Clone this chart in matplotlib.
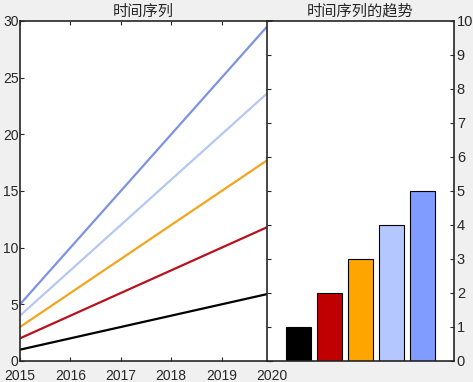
import numpy as np
import matplotlib.pyplot as plt

plt.rcParams['font.family'] = ['Noto Sans CJK SC', 'DejaVu Sans']

# 数据
years = [2015, 2016, 2017, 2018, 2019, 2020]
series = [
    [1, 2, 3, 4, 5, 6],
    [2, 4, 6, 8, 10, 12],
    [3, 6, 9, 12, 15, 18],
    [4, 8, 12, 16, 20, 24],
    [5, 10, 15, 20, 25, 30],
]
bar_x = [1, 2, 3, 4, 5]
bar_vals = [1, 2, 3, 4, 5]
line_colors = ['#000000', '#B8121C', '#F2A520', '#B4C8F2', '#7D93E2']
bar_colors = ['#000000', '#C00000', '#FFA500', '#B4C8FF', '#809CFF']

dark = '#262626'
tick_font = 'Liberation Sans'
fig = plt.figure(figsize=(4.73, 3.82), dpi=100, facecolor='#F0F0F0')

# 左图比右图起点更宽, 右图盖住它的最右端
ax1 = fig.add_axes([20/473, 1 - 361/382, 252/473, 340/382])
for y, c in zip(series, line_colors):
    ax1.plot(years, y, color=c, linewidth=1.6)
ax1.set_xlim(2015, 2020)
ax1.set_ylim(0, 30)
ax1.set_xticks(years)
ax1.set_yticks([0, 5, 10, 15, 20, 25, 30])
ax1.tick_params(direction='in', top=True, right=True, labelsize=10,
                colors=dark, length=3, width=0.8, pad=1)
ax1.tick_params(axis='x', pad=6)
ax1.set_title('时间序列', fontsize=11, color=dark, pad=4, x=247/252/2)

ax2 = fig.add_axes([267/473, 1 - 361/382, 187/473, 340/382], zorder=2)
ax2.bar(bar_x, bar_vals, width=0.8, color=bar_colors, edgecolor='black', linewidth=0.8)
ax2.set_xlim(0, 6)
ax2.set_ylim(0, 10)
ax2.set_xticks([])
ax2.set_yticks(range(0, 11))
ax2.yaxis.tick_right()
ax2.tick_params(axis='y', direction='in', left=True, right=True, labelsize=10.5,
                colors=dark, length=3, width=0.8, pad=2)
ax2.set_title('时间序列的趋势', fontsize=11, color=dark, pad=4)

for ax in (ax1, ax2):
    for lab in ax.get_xticklabels() + ax.get_yticklabels():
        lab.set_fontfamily(tick_font)
    for s in ax.spines.values():
        s.set_color(dark)
        s.set_linewidth(1.2)

fig.savefig('out.png', dpi=100, facecolor=fig.get_facecolor())
